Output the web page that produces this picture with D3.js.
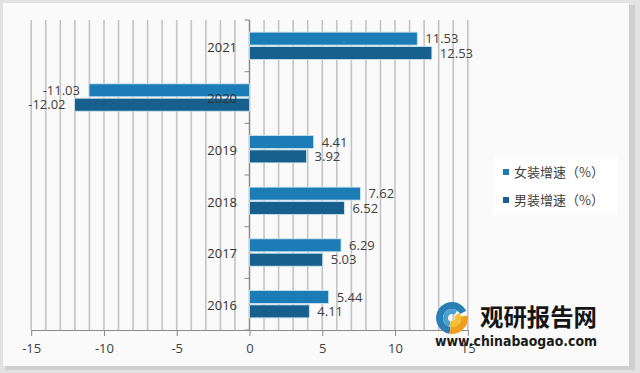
<!DOCTYPE html>
<html><head><meta charset="utf-8">
<script src="https://cdn.jsdelivr.net/npm/d3@7"></script>
<style>
html,body{margin:0;padding:0;background:#e4e4e4;}
svg{display:block;}
</style></head>
<body>
<svg id="chart" width="640" height="373"></svg>
<script>
const years = ["2021","2020","2019","2018","2017","2016"];
const seriesNames = ["女装增速（%）","男装增速（%）"];
const female = [11.53, -11.03, 4.41, 7.62, 6.29, 5.44];
const male = [12.53, -12.02, 3.92, 6.52, 5.03, 4.11];
const xTicks = [-15,-10,-5,0,5,10,15];
const colors = ["#1c7db6","#175f8c"];

(function(){
const svg = d3.select("#chart");
const W = 640, H = 373;

// frame
svg.append("rect").attr("x",0).attr("y",0).attr("width",W).attr("height",H).attr("fill","#e2e2e2");
svg.append("rect").attr("x",629).attr("y",5).attr("width",6).attr("height",363).attr("fill","#cfcfcf");
svg.append("rect").attr("x",5).attr("y",366).attr("width",630).attr("height",4).attr("fill","#cfcfcf");
svg.append("rect").attr("x",3).attr("y",3).attr("width",626).attr("height",363).attr("fill","#fafafa");

const pL = 31.2, pR = 467.8, pT = 20, pB = 330;
const x = d3.scaleLinear().domain([-15,15]).range([pL,pR]);
const y0 = d3.scaleBand().domain(years).range([pT,pB]).paddingInner(0.47).paddingOuter(0.235);
const y1 = d3.scaleBand().domain([0,1]).range([0,y0.bandwidth()]).paddingInner(0.1);

// minor gridlines every unit
svg.append("g").selectAll("line").data(d3.range(-15,16)).join("line")
  .attr("x1",d=>x(d)).attr("x2",d=>x(d)).attr("y1",pT).attr("y2",pB)
  .attr("stroke","#c4c4c4").attr("stroke-width",1.6);

// x axis
const xAxis = d3.axisBottom(x).tickValues(xTicks).tickSize(6).tickSizeOuter(0).tickFormat(d=>d<0?"-"+Math.abs(d):String(d));
const xa = svg.append("g").attr("transform",`translate(0,${pB})`).call(xAxis);
xa.select(".domain").attr("stroke","#8a8a8a").attr("stroke-width",1.2);
xa.selectAll(".tick line").attr("stroke","#8a8a8a");
xa.selectAll("text").attr("font-family","Open Sans, Liberation Sans, sans-serif").attr("font-size",13).attr("fill","#404040").attr("dy","1.05em");

// y axis at zero
const yBounds = d3.range(years.length+1).map(i=>pT + i*y0.step());
svg.append("line").attr("x1",x(0)).attr("x2",x(0)).attr("y1",pT).attr("y2",pB).attr("stroke","#8a8a8a").attr("stroke-width",1.2);
svg.append("g").selectAll("line").data(yBounds).join("line")
  .attr("x1",x(0)-5).attr("x2",x(0)).attr("y1",d=>d).attr("y2",d=>d).attr("stroke","#8a8a8a");

// bars
const data = years.map((yr,i)=>({yr, vals:[female[i], male[i]]}));
const groups = svg.append("g").selectAll("g").data(data).join("g").attr("transform",d=>`translate(0,${y0(d.yr)})`);
groups.selectAll("rect").data(d=>d.vals.map((v,k)=>({v,k}))).join("rect")
  .attr("x",d=>x(Math.min(0,d.v))).attr("width",d=>Math.abs(x(d.v)-x(0)))
  .attr("y",d=>y1(d.k)).attr("height",y1.bandwidth())
  .attr("fill",d=>colors[d.k]).attr("stroke","#cfe6f2").attr("stroke-width",0.8);

// value labels
groups.selectAll("text").data(d=>d.vals.map((v,k)=>({v,k}))).join("text")
  .attr("x",d=>d.v>=0 ? x(d.v)+8 : x(d.v)-9)
  .attr("y",d=>y1(d.k)+y1.bandwidth()/2)
  .attr("dy","0.36em")
  .attr("text-anchor",d=>d.v>=0?"start":"end")
  .attr("font-family","Open Sans, Liberation Sans, sans-serif").attr("font-size",13).attr("fill","#404040")
  .text(d=>d.v.toFixed(2));

// year labels
svg.append("g").selectAll("text").data(years).join("text")
  .attr("x",237).attr("y",d=>y0(d)+y0.bandwidth()/2+1).attr("dy","0.36em")
  .attr("text-anchor","end")
  .attr("font-family","Open Sans, Liberation Sans, sans-serif").attr("font-size",13).attr("fill","#333")
  .text(d=>d);

// legend
svg.append("rect").attr("x",493).attr("y",157).attr("width",124).attr("height",58).attr("fill","#ffffff");
const leg = svg.append("g").selectAll("g").data(seriesNames).join("g").attr("transform",(d,i)=>`translate(503,${172+i*28})`);
leg.append("rect").attr("x",0).attr("y",-3).attr("width",6).attr("height",6).attr("fill",(d,i)=>colors[i]);
leg.append("text").attr("x",11).attr("y",0).attr("dy","0.36em")
  .attr("font-family","Noto Sans CJK SC, sans-serif").attr("font-size",13).attr("fill","#404040").text(d=>d);

// watermark
const logo = svg.append("g").attr("transform","translate(452,318)");
const arc = d3.arc();
logo.append("path").attr("d",arc({innerRadius:9,outerRadius:16,startAngle:-Math.PI*0.95,endAngle:Math.PI*0.35})).attr("fill","#2a7fb5");
logo.append("path").attr("d",arc({innerRadius:4,outerRadius:9,startAngle:-Math.PI*0.9,endAngle:Math.PI*0.2})).attr("fill","#4aa0d0");
logo.append("path").attr("d",arc({innerRadius:9,outerRadius:16,startAngle:Math.PI*0.45,endAngle:Math.PI*1.05})).attr("fill","#f0a020");
logo.append("path").attr("d",arc({innerRadius:3,outerRadius:9,startAngle:Math.PI*0.3,endAngle:Math.PI*1.1})).attr("fill","#f5c030");
svg.append("text").attr("x",480).attr("y",326).attr("font-family","Noto Sans CJK SC, sans-serif").attr("font-weight","bold")
  .attr("font-size",24).attr("fill","#151515").attr("textLength",117).attr("lengthAdjust","spacingAndGlyphs").text("观研报告网");
svg.append("text").attr("x",435).attr("y",346).attr("font-family","DejaVu Sans, sans-serif").attr("font-weight","bold")
  .attr("font-size",14).attr("fill","#1a1a1a").attr("textLength",162).attr("lengthAdjust","spacingAndGlyphs").text("www.chinabaogao.com");
})();
</script>
</body></html>
